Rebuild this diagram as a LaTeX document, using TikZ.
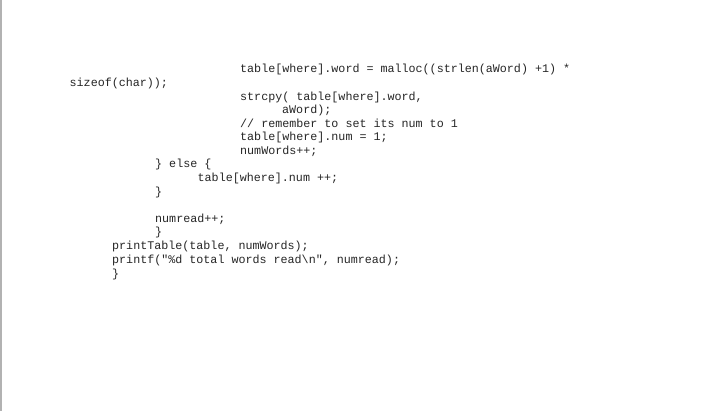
\documentclass[tikz,border=0pt]{standalone}
\usepackage{fontspec}
\setmonofont{Liberation Mono}
\begin{document}
\begin{tikzpicture}[x=1pt,y=-1pt,code/.style={anchor=base west,inner sep=0pt,font=\ttfamily\fontsize{11.7}{13.6}\selectfont,text=black!85}]
\useasboundingbox[fill=white] (0,0) rectangle (719,411);
\draw[black!30,line width=1.5] (0.75,0) -- (0.75,411);
\node[code] (l1) at (240,73) {table[where].word = malloc((strlen(aWord) +1) *};
\node[code] (l2) at (69.5,87) {sizeof(char));};
\node[code] (l3) at (240,101) {strcpy( table[where].word,};
\node[code] (l4) at (282,114) {aWord);};
\node[code] (l5) at (240,127.5) {// remember to set its num to 1};
\node[code] (l6) at (240,141) {table[where].num = 1;};
\node[code] (l7) at (240,154.5) {numWords++;};
\node[code] (l8) at (155,168) {\} else \{};
\node[code] (l9) at (197.5,182) {table[where].num ++;};
\node[code] (l10) at (155,196) {\}};
\node[code] (l11) at (155,223) {numread++;};
\node[code] (l12) at (155,236) {\}};
\node[code] (l13) at (112,250) {printTable(table, numWords);};
\node[code] (l14) at (112,264) {printf("\%d total words read\textbackslash n", numread);};
\node[code] (l15) at (112,277) {\}};
\end{tikzpicture}
\end{document}
